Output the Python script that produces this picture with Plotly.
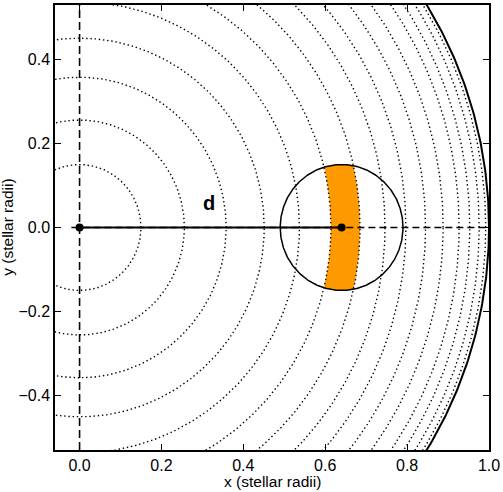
import numpy as np
import plotly.graph_objects as go

# values (stellar radii)
ring_radii = [0.150, 0.256, 0.358, 0.451, 0.537, 0.614, 0.685, 0.746,
              0.797, 0.845, 0.888, 0.927, 0.953, 0.976, 0.992]
star_radius = 1.0
planet_x = 0.64
planet_y = 0.0
planet_r = 0.15
band_inner = 0.614
band_outer = 0.685
d_label = "d"
x_ticks = [0.0, 0.2, 0.4, 0.6, 0.8, 1.0]
y_ticks = [-0.4, -0.2, 0.0, 0.2, 0.4]

t = np.linspace(0, 2 * np.pi, 721)

fig = go.Figure()


def circle(x0, y0, r):
    return x0 + r * np.cos(t), y0 + r * np.sin(t)


# orange band: annulus clipped to the planet disc
def cross_angle(r):
    c = (r**2 + planet_x**2 - planet_r**2) / (2 * planet_x * r)
    th = np.arccos(c)
    px, py = r * np.cos(th), r * np.sin(th)
    ph = np.arctan2(py - planet_y, px - planet_x)
    return th, ph

th_i, ph_i = cross_angle(band_inner)
th_o, ph_o = cross_angle(band_outer)
a1 = np.linspace(-th_i, th_i, 100)
a2 = np.linspace(ph_i, ph_o, 60)
a3 = np.linspace(th_o, -th_o, 100)
a4 = np.linspace(-ph_o, -ph_i, 60)
bx = np.concatenate([band_inner * np.cos(a1), planet_x + planet_r * np.cos(a2),
                     band_outer * np.cos(a3), planet_x + planet_r * np.cos(a4)])
by = np.concatenate([band_inner * np.sin(a1), planet_y + planet_r * np.sin(a2),
                     band_outer * np.sin(a3), planet_y + planet_r * np.sin(a4)])
fig.add_trace(go.Scatter(x=bx, y=by, mode="lines", fill="toself",
                         fillcolor="#ff9900", line=dict(width=0),
                         hoverinfo="skip"))

# dotted rings
for r in ring_radii:
    cx, cy = circle(0, 0, r)
    fig.add_trace(go.Scatter(x=cx, y=cy, mode="lines",
                             line=dict(color="black", width=1.4, dash="1.4px,2.8px")))

# stellar limb
cx, cy = circle(0, 0, star_radius)
fig.add_trace(go.Scatter(x=cx, y=cy, mode="lines", line=dict(color="black", width=2)))

# planet outline
cx, cy = circle(planet_x, planet_y, planet_r)
fig.add_trace(go.Scatter(x=cx, y=cy, mode="lines", line=dict(color="black", width=1.5)))

# dashed axes through the star centre
fig.add_trace(go.Scatter(x=[0, 0], y=[-0.53, 0.53], mode="lines",
                         line=dict(color="black", width=1.6, dash="8px,4px")))
fig.add_trace(go.Scatter(x=[-0.02, star_radius], y=[0, 0], mode="lines",
                         line=dict(color="black", width=1.6, dash="7px,4px")))

# distance d
fig.add_trace(go.Scatter(x=[0, planet_x], y=[0, planet_y], mode="lines+markers",
                         line=dict(color="black", width=2),
                         marker=dict(color="black", size=8)))

fig.add_annotation(x=0.315, y=0.058, text="<b>" + d_label + "</b>", showarrow=False,
                   font=dict(size=20, color="black", family="Liberation Sans"))

axis_style = dict(showgrid=False, zeroline=False, showline=True, linecolor="black",
                  linewidth=1.5, mirror="ticks", ticks="inside", ticklen=6,
                  tickwidth=1, tickcolor="black",
                  tickfont=dict(size=16, color="black", family="Liberation Sans"))

fig.update_xaxes(range=[-0.06, 1.0], tickvals=x_ticks, tickformat=".1f", **axis_style)
fig.update_yaxes(range=[-0.53, 0.53], tickvals=y_ticks, tickformat=".1f", **axis_style)

fig.add_annotation(xref="paper", yref="paper", x=0.5, y=-0.07, yanchor="middle",
                   text="x (stellar radii)", showarrow=False,
                   font=dict(size=15.5, color="black", family="Liberation Sans"))
fig.add_annotation(xref="paper", yref="paper", x=-0.11, y=0.5, xanchor="center",
                   yanchor="middle", text="y (stellar radii)", showarrow=False,
                   textangle=-90,
                   font=dict(size=15.5, color="black", family="Liberation Sans"))

fig.update_layout(width=503, height=492, showlegend=False,
                  margin=dict(l=55, r=13, t=3, b=42),
                  plot_bgcolor="white", paper_bgcolor="white")

fig.write_html("out.html", config={"displayModeBar": False},
               post_script="document.body.style.margin='0px';")
